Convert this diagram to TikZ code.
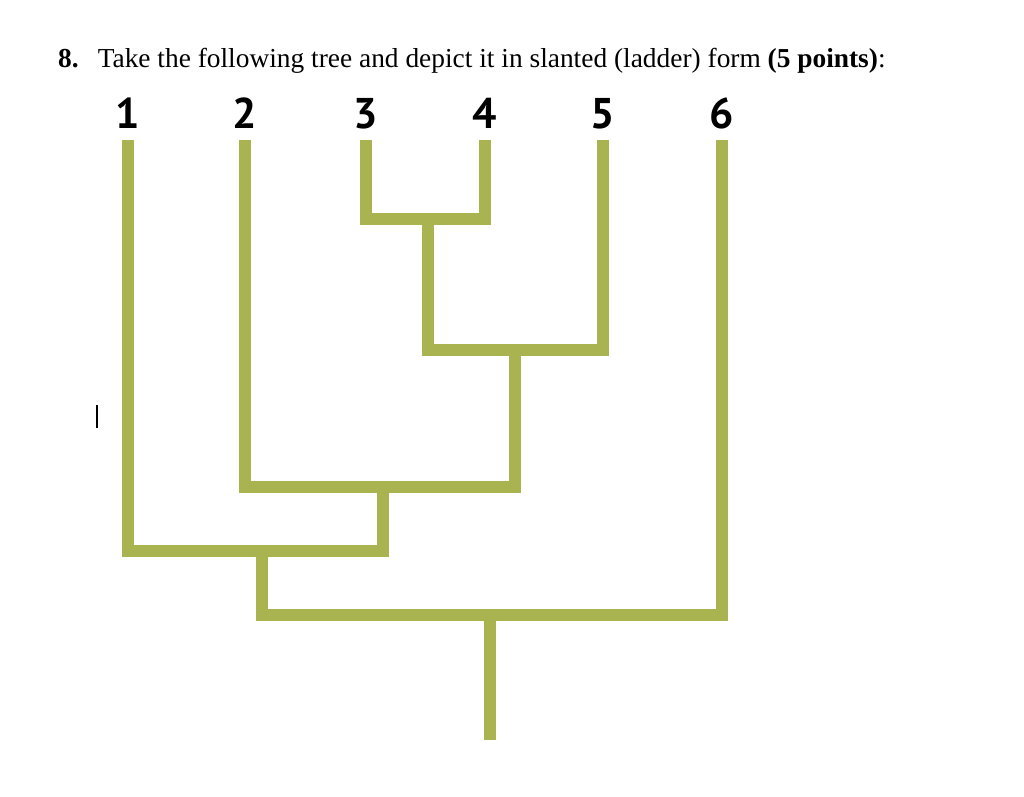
\documentclass[tikz,border=0pt]{standalone}
\usepackage{fontspec}
\setmainfont{Liberation Serif}
\newfontfamily\digitfont{PT Sans}
\definecolor{branch}{HTML}{A9B350}
\tikzset{
  twig/.style={draw=branch,line width=12pt,line join=miter,line cap=butt},
  tip/.style={font=\digitfont\bfseries\fontsize{43}{43}\selectfont,inner sep=0pt,anchor=base}
}
\begin{document}
\begin{tikzpicture}[x=1pt,y=-1pt]
\useasboundingbox (0,0) rectangle (1024,796);
\node[anchor=base west,inner sep=0pt,font=\fontsize{27.4}{27.4}\selectfont] (title) at (58,67)
  {\textbf{8.}\hspace{19pt}Take the following tree and depict it in slanted (ladder) form \textbf{(5 points)}:};
% tip labels
\foreach \n/\x in {1/128,2/245,3/366,4/485,5/603,6/722}
  \node[tip] (t\n) at (\x,128) {\n};
% tree
\draw[twig] (366,140) |- (428,219) -| (485,140) ;
\draw[twig] (428,219) |- (515,350) -| (603,140) ;
\draw[twig] (515,350) |- (383,487) -| (245,140) ;
\draw[twig] (383,487) |- (262,551) -| (128,140) ;
\draw[twig] (262,551) |- (490,615) -| (722,140) ;
\draw[twig] (490,615) -- (490,740) ;
% cursor
\draw[line width=2pt] (97,405) -- (97,428) ;
\end{tikzpicture}
\end{document}
